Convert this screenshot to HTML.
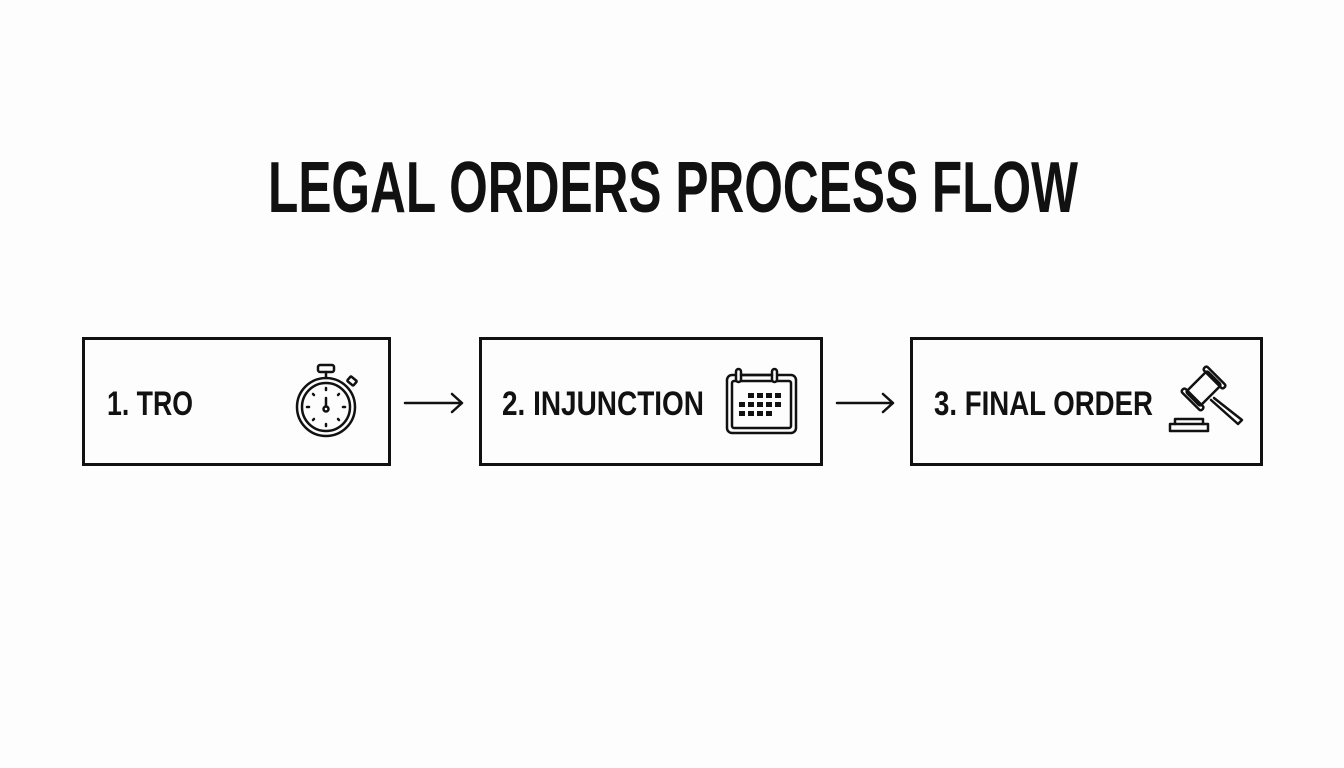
<!DOCTYPE html>
<html><head><meta charset="utf-8"><style>
html,body{margin:0;padding:0;background:#fdfdfd;}
svg{display:block}
</style></head><body>
<svg width="1344" height="768" viewBox="0 0 1344 768" xmlns="http://www.w3.org/2000/svg" font-family="'Liberation Sans Narrow','Liberation Sans',sans-serif" font-weight="bold" fill="#111">
<rect width="1344" height="768" fill="#fdfdfd"/>
<text x="268" y="212" font-size="72" textLength="810" lengthAdjust="spacingAndGlyphs">LEGAL ORDERS PROCESS FLOW</text>
<g fill="none" stroke="#111" stroke-width="3">
<rect x="83.5" y="338.5" width="306" height="126"/>
<rect x="480.5" y="338.5" width="341" height="126"/>
<rect x="911.5" y="338.5" width="350" height="126"/>
</g>
<text x="107" y="415" font-size="34" textLength="86" lengthAdjust="spacingAndGlyphs">1. TRO</text>
<text x="502" y="415" font-size="34" textLength="202" lengthAdjust="spacingAndGlyphs">2. INJUNCTION</text>
<text x="934" y="415" font-size="34" textLength="219" lengthAdjust="spacingAndGlyphs">3. FINAL ORDER</text>
<g fill="none" stroke="#111" stroke-width="2.5" stroke-linecap="round" stroke-linejoin="round">
<path d="M405 403H462M452 394L462 403L452 412"/>
<path d="M837 403H893M883 394L893 403L883 412"/>
<!-- stopwatch -->
<circle cx="326" cy="407" r="29"/>
<circle cx="326" cy="407" r="24"/>
<rect x="318" y="365" width="16" height="7" rx="2"/>
<line x1="326" y1="372" x2="326" y2="378"/>
<rect x="348" y="378" width="8" height="6" rx="1" transform="rotate(40 352 381)"/>
<line x1="326" y1="398" x2="326" y2="406"/>
<circle cx="326" cy="409" r="2.5"/>
<path d="M326 388v2M326 424v2M307 407h2M343 407h2M313 394l1 1M339 394l-1 1M313 420l1-1M339 420l-1-1"/>
<!-- calendar -->
<rect x="727" y="375" width="69" height="58" rx="5"/>
<rect x="732" y="381" width="59" height="47" rx="2"/>
<rect x="736" y="369" width="5" height="13" rx="2.5" fill="#fdfdfd"/>
<rect x="772" y="369" width="5" height="13" rx="2.5" fill="#fdfdfd"/>
<line x1="741" y1="375" x2="772" y2="375"/>
<!-- gavel -->
<path d="M1170 431h38v-7h-38z"/>
<path d="M1175 424v-5h28v5"/>
<g transform="rotate(45 1200 392)">
<rect x="1190" y="372" width="20" height="30" rx="2"/>
<rect x="1186" y="369" width="28" height="5" rx="2"/>
<rect x="1186" y="400" width="28" height="5" rx="2"/>
</g>
<path d="M1214 398l28 22l-4 4l-27-24"/>
</g>
<g fill="#111">
<rect x="748" y="393" width="6" height="5"/><rect x="757" y="393" width="6" height="5"/><rect x="766" y="393" width="6" height="5"/><rect x="775" y="393" width="6" height="5"/>
<rect x="739" y="402" width="6" height="5"/><rect x="748" y="402" width="6" height="5"/><rect x="757" y="402" width="6" height="5"/><rect x="766" y="402" width="6" height="5"/><rect x="775" y="402" width="6" height="5"/>
<rect x="739" y="411" width="6" height="5"/><rect x="748" y="411" width="6" height="5"/><rect x="757" y="411" width="6" height="5"/><rect x="766" y="411" width="6" height="5"/>
</g>
</svg>
</body></html>
